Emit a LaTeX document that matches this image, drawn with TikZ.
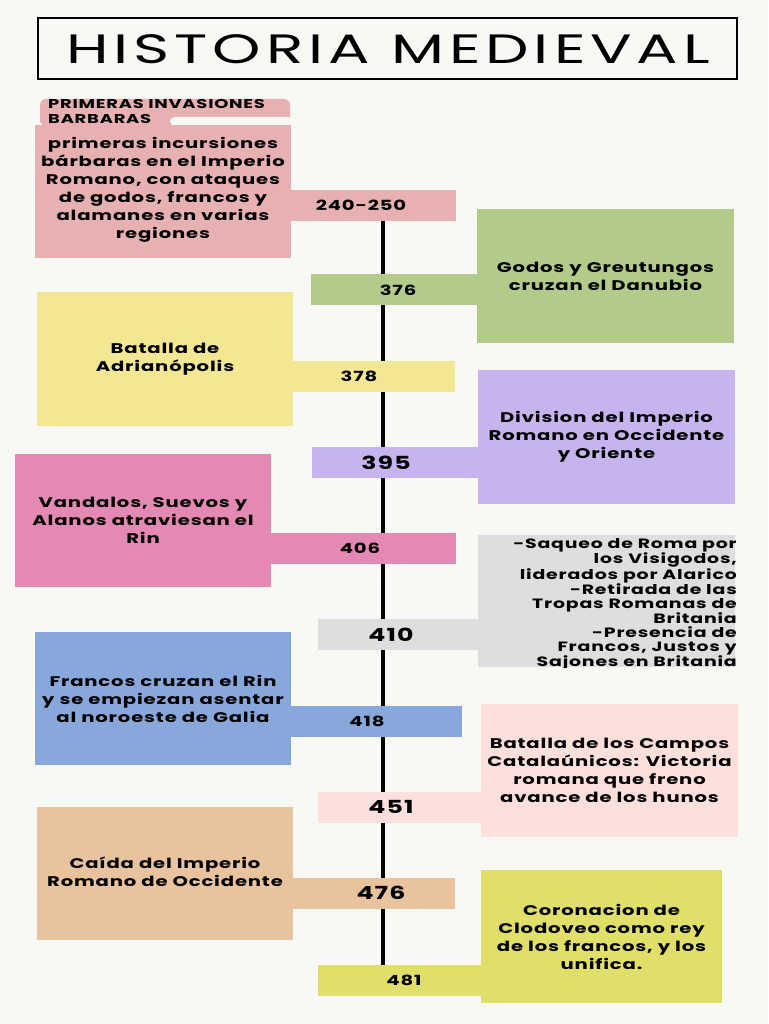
\documentclass[tikz,border=0pt]{standalone}
\usepackage{fontspec}
\setmainfont{Poppins}
\newfontfamily\titlefont[LetterSpace=12,FakeStretch=1.5]{Poppins}
\newfontfamily\wide[LetterSpace=6,FakeStretch=1.4]{Poppins}
\begin{document}
\begin{tikzpicture}[x=1pt,y=-1pt,
  body/.style={font=\wide\bfseries\fontsize{14}{18}\selectfont, align=center, inner sep=0},
  datet/.style={font=\wide\bfseries\fontsize{14}{16}\selectfont, inner sep=0},
  dateb/.style={font=\wide\bfseries\fontsize{18}{20}\selectfont, inner sep=0}]
\definecolor{bg}{HTML}{F8F8F5}
\definecolor{cpink}{HTML}{E8B1B1}
\definecolor{cgreen}{HTML}{B2CB8A}
\definecolor{cyel}{HTML}{F3E793}
\definecolor{cpurp}{HTML}{C7B4EE}
\definecolor{cmag}{HTML}{E488B4}
\definecolor{cgrey}{HTML}{DEDEDE}
\definecolor{cblue}{HTML}{88A8DC}
\definecolor{clpink}{HTML}{FDE0DC}
\definecolor{ctan}{HTML}{E8C39E}
\definecolor{cyg}{HTML}{DFDF6A}
\fill[bg] (0,0) rectangle (768,1024);
\useasboundingbox (0,0) rectangle (768,1024);
\draw[line width=1.3] (38,18) rectangle (737,79);
\node (title) at (388,49) {\titlefont\fontsize{41}{44}\selectfont HISTORIA MEDIEVAL};
\draw[line width=3.5] (383,205) -- (383,990);
\newcommand\tbox[7]{%
  \fill[#5] (#1,#2) rectangle (#3,#4);
  \begin{scope}\clip (#1,#2) rectangle (#3,#4);
  \node[body] (#7) at ({(#1+#3)/2},{(#2+#4)/2}) {#6};
  \end{scope}}
\fill[cpink, rounded corners=6] (40,99) rectangle (290,126);
\fill[bg, rounded corners=5] (170,117) rectangle (293,126);
\fill[cpink] (35,125) rectangle (291,258);
\node[font=\wide\bfseries\fontsize{12.8}{15}\selectfont, align=left, anchor=north west, inner sep=0] (tag) at (48,99) {PRIMERAS INVASIONES\\BARBARAS};
\begin{scope}\clip (35,125) rectangle (284,258);
\node[body] (b1) at (163,190) {primeras incursiones\\bárbaras en el Imperio\\Romano, con ataques\\de godos, francos y\\alamanes en varias\\regiones};
\end{scope}
\tbox{477}{209}{734}{343}{cgreen}{Godos y Greutungos\\cruzan el Danubio}{b2}
\tbox{37}{292}{293}{426}{cyel}{Batalla de\\Adrianópolis}{b3}
\tbox{478}{370}{735}{504}{cpurp}{Division del Imperio\\Romano en Occidente\\y Oriente}{b4}
\tbox{15}{454}{271}{587}{cmag}{Vandalos, Suevos y\\Alanos atraviesan el\\Rin}{b5}
\fill[cgrey] (478,535) rectangle (735,667);
\begin{scope}\clip (478,535) rectangle (735,667);
\node[font=\wide\bfseries\fontsize{13.5}{13.8}\selectfont, align=right, anchor=north east, inner sep=0] (b6) at (737,538) {-Saqueo de Roma por\\los Visigodos,\\liderados por Alarico\\-Retirada de las\\Tropas Romanas de\\Britania\\-Presencia de\\Francos, Justos y\\Sajones en Britania};
\end{scope}
\tbox{35}{632}{291}{765}{cblue}{Francos cruzan el Rin\\y se empiezan asentar\\al noroeste de Galia}{b7}
\tbox{481}{704}{738}{837}{clpink}{Batalla de los Campos\\Catalaúnicos: Victoria\\romana que freno\\avance de los hunos}{b8}
\fill[ctan] (37,807) rectangle (293,940);
\begin{scope}\clip (37,807) rectangle (286,940);
\node[body] (b9) at (165,872) {Caída del Imperio\\Romano de Occidente};
\end{scope}
\tbox{481}{870}{722}{1003}{cyg}{Coronacion de\\Clodoveo como rey\\de los francos, y los\\unifica.}{b10}
\fill[cpink] (291,190) rectangle (456,221); \node[datet] (d1) at (361,205) {240-250};
\fill[cgreen] (311,274) rectangle (478,305); \node[datet] (d2) at (398,290) {376};
\fill[cyel] (293,361) rectangle (455,392); \node[datet] (d3) at (359,376) {378};
\fill[cpurp] (312,447) rectangle (478,478); \node[dateb] (d4) at (386,463) {395};
\fill[cmag] (271,533) rectangle (456,564); \node[datet] (d5) at (360,548) {406};
\fill[cgrey] (318,619) rectangle (478,650); \node[dateb] (d6) at (391,635) {410};
\fill[cblue] (291,706) rectangle (462,737); \node[datet] (d7) at (367,721) {418};
\fill[clpink] (318,792) rectangle (481,823); \node[dateb] (d8) at (391,807) {451};
\fill[ctan] (293,878) rectangle (455,909); \node[dateb] (d9) at (381,893) {476};
\fill[cyg] (318,965) rectangle (481,996); \node[datet] (d10) at (404,980) {481};
\end{tikzpicture}
\end{document}
